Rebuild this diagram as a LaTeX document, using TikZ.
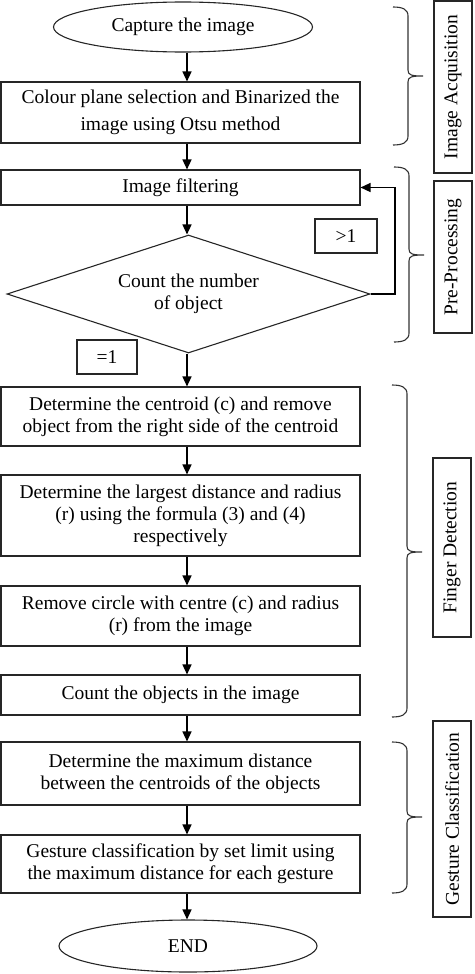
\documentclass[tikz,border=0pt]{standalone}
\usepackage{fontspec}
\setmainfont{Liberation Serif}
\usetikzlibrary{shapes.geometric,arrows.meta}
\newcommand\phasebrace[4]{% x of vertical, top, mid, bottom
  \draw[brc] ({#1-15},#2) .. controls ({#1-6},#2) and (#1,{#2+2}) .. (#1,{#2+9})
    -- (#1,{#3-6}) .. controls (#1,{#3-1}) and ({#1+3},#3) .. ({#1+15},#3)
    .. controls ({#1+3},#3) and (#1,{#3+1}) .. (#1,{#3+6})
    -- (#1,{#4-9}) .. controls (#1,{#4-2}) and ({#1-6},#4) .. ({#1-15},#4);}
\begin{document}
\begin{tikzpicture}[x=1pt,y=-1pt,
  every node/.style={font=\fontsize{19.5}{22}\selectfont, inner sep=0pt, align=center},
  proc/.style={draw=black!85, line width=1.1pt, rectangle, minimum width=359pt},
  term/.style={draw=black!85, line width=1.1pt, ellipse},
  cond/.style={draw=black!85, line width=1.1pt, diamond, shape aspect=3.08, minimum width=363pt, minimum height=118pt},
  tag/.style={draw=black!85, line width=1.1pt, rectangle},
  phase/.style={draw=black!85, line width=1.4pt, rectangle, rotate=90, minimum height=38pt},
  arr/.style={line width=1.4pt, -{Triangle[width=9pt,length=10pt]}},
  brc/.style={draw=black!80, line width=1.1pt}
]
\useasboundingbox (0,0) rectangle (474,974);
\coordinate (ax) at (187,0);
\coordinate (fb) at (395,0);

% main flow
\node[term, minimum width=259pt, minimum height=50pt] (e1) at (183,27) {Capture the image};
\node[proc, minimum height=61pt] (b1) at (180.5,112.5) {Colour plane selection and Binarized the\\[5pt]image using Otsu method};
\node[proc, minimum height=35pt] (b2) at (180.5,187.5) {Image filtering};
\node[cond] (d) at (188.5,294) {Count the number\\of object};
\node[tag, minimum width=62pt, minimum height=34pt] (gt) at (346,236) {>1};
\node[tag, minimum width=60pt, minimum height=34pt] (eq) at (107,357) {=1};
\node[proc, minimum height=59pt] (b3) at (180.5,416.5) {Determine the centroid (c) and remove\\object from the right side of the centroid};
\node[proc, minimum height=81pt] (b4) at (180.5,515.5) {Determine the largest distance and radius\\(r) using the formula (3) and (4)\\respectively};
\node[proc, minimum height=60pt] (b5) at (180.5,616) {Remove circle with centre (c) and radius\\(r) from the image};
\node[proc, minimum height=40pt] (b6) at (180.5,695) {Count the objects in the image};
\node[proc, minimum height=63pt] (b7) at (180.5,773.5) {Determine the maximum distance\\between the centroids of the objects};
\node[proc, minimum height=58pt] (b8) at (180.5,864) {Gesture classification by set limit using\\the maximum distance for each gesture};
\node[term, minimum width=258pt, minimum height=52pt] (e2) at (188,946) {END};

% arrows
\draw[arr] (e1.south -| ax) -- (b1.north -| ax);
\draw[arr] (b1.south -| ax) -- (b2.north -| ax);
\draw[arr] (b2.south -| ax) -- (d.north -| ax);
\draw[arr] (d.south -| ax) -- (b3.north -| ax);
\draw[arr] (b3.south -| ax) -- (b4.north -| ax);
\draw[arr] (b4.south -| ax) -- (b5.north -| ax);
\draw[arr] (b5.south -| ax) -- (b6.north -| ax);
\draw[arr] (b6.south -| ax) -- (b7.north -| ax);
\draw[arr] (b7.south -| ax) -- (b8.north -| ax);
\draw[arr] (b8.south -| ax) -- (e2.north -| ax);
\draw[arr] (d.east) -- (d.east -| fb) |- (b2.east);

% braces
\phasebrace{408}{7}{76}{145}
\phasebrace{409}{167}{255}{342}
\phasebrace{407}{385}{552}{717}
\phasebrace{407}{742}{817}{893}

% phase labels
\node[phase, minimum width=172pt] (p1) at (453,87) {Image Acquisition};
\node[phase, minimum width=152pt] (p2) at (453,257) {Pre-Processing};
\node[phase, minimum width=179pt] (p3) at (452,547.5) {Finger Detection};
\node[phase, minimum width=196pt] (p4) at (452,819) {Gesture Classification};
\end{tikzpicture}
\end{document}
